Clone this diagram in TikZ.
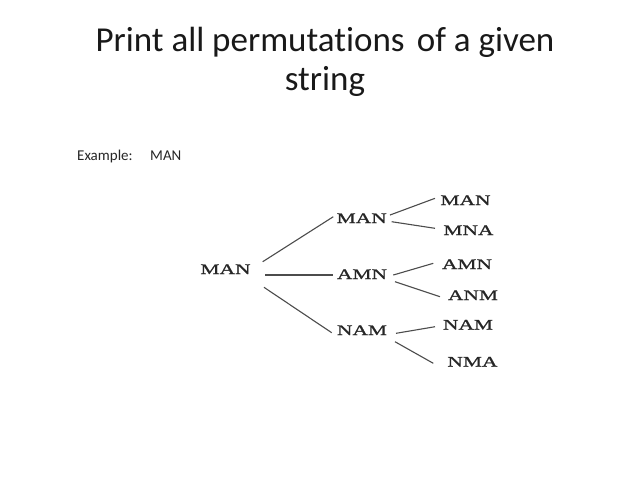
\documentclass[tikz,border=0pt]{standalone}
\usepackage{fontspec}
\setmainfont[Ligatures={NoCommon}]{Carlito}
\newfontfamily\treefont[FakeStretch=1.48,FakeBold=1.2]{Liberation Serif}
\begin{document}
\begin{tikzpicture}[x=1pt,y=-1pt,
  titletext/.style={font=\fontsize{35}{42}\selectfont, text=black!90, inner sep=0pt, anchor=base},
  smalltext/.style={font=\fontsize{15}{18}\selectfont, text=black!85, inner sep=0pt, anchor=base west},
  perm/.style={font=\treefont\fontsize{14.5}{17}\selectfont, text=black!85, inner sep=0pt, anchor=base},
  edge/.style={draw=black!70, line width=1.1pt}]
\fill[white] (0,0) rectangle (640,480);
\useasboundingbox (0,0) rectangle (640,480);
% title
\node[titletext] (t1) at (325,51) {Print all permutations\hspace{0.35em}of a given};
\node[titletext] (t2) at (325,90) {string};
\node[smalltext] (ex) at (77,160.7) {Example:};
\node[smalltext] (exw) at (150,160.7) {MAN};
% tree nodes
\node[perm] (root) at (225.5,274) {MAN};
\node[perm] (m1) at (361.7,223) {MAN};
\node[perm] (a1) at (362,279) {AMN};
\node[perm] (n1) at (362,335) {NAM};
\node[perm] (l1) at (465.5,205) {MAN};
\node[perm] (l2) at (468.5,235) {MNA};
\node[perm] (l3) at (467,269) {AMN};
\node[perm] (l4) at (473,300) {ANM};
\node[perm] (l5) at (468,329.5) {NAM};
\node[perm] (l6) at (472.5,366.5) {NMA};
% connectors
\draw[edge] ([shift={(37.2,-7.5)}]root.center) -- ([shift={(-28.4,-1.5)}]m1.center);
\draw[edge] ([shift={(39.5,5.8)}]root.center) -- ([shift={(-29,0.8)}]a1.center);
\draw[edge] ([shift={(38.5,18.1)}]root.center) -- ([shift={(-30.3,2.5)}]n1.center);
\draw[edge] ([shift={(28.3,-3.2)}]m1.center) -- ([shift={(-30.5,-1.9)}]l1.center);
\draw[edge] ([shift={(30,3.5)}]m1.center) -- ([shift={(-33.5,-1.9)}]l2.center);
\draw[edge] ([shift={(31.3,0.8)}]a1.center) -- ([shift={(-33.7,-0.9)}]l3.center);
\draw[edge] ([shift={(33,7.5)}]a1.center) -- ([shift={(-33,1.5)}]l4.center);
\draw[edge] ([shift={(34,3.1)}]n1.center) -- ([shift={(-33,2)}]l5.center);
\draw[edge] ([shift={(33,11.5)}]n1.center) -- ([shift={(-39.2,1.6)}]l6.center);
\end{tikzpicture}
\end{document}
